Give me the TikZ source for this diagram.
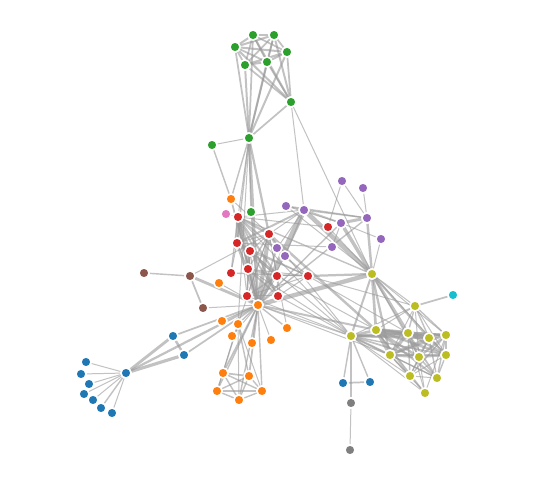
\documentclass[tikz,border=0pt]{standalone}
\usepackage{tikz}
\usetikzlibrary{backgrounds}
\definecolor{cblue}{HTML}{1F77B4}
\definecolor{corange}{HTML}{FF7F0E}
\definecolor{cgreen}{HTML}{2CA02C}
\definecolor{cred}{HTML}{D62728}
\definecolor{cpurple}{HTML}{9467BD}
\definecolor{cbrown}{HTML}{8C564B}
\definecolor{cpink}{HTML}{E377C2}
\definecolor{cgray}{HTML}{7F7F7F}
\definecolor{colive}{HTML}{BCBD22}
\definecolor{ccyan}{HTML}{17BECF}
\definecolor{linkgray}{HTML}{999999}
\begin{document}
\begin{tikzpicture}[x=1pt,y=-1pt,
  pers/.style={circle, fill=#1, draw=white, line width=1.5pt, minimum size=10pt, inner sep=0pt},
  link/.style={draw=linkgray, draw opacity=0.6}]
  \useasboundingbox (0,0) rectangle (547,492);
  % group 1: Myriel and his household
  \node[pers=cblue] (myriel) at (126,373) {};
  \node[pers=cblue] (napoleon) at (86,362) {};
  \node[pers=cblue] (countess) at (81,374) {};
  \node[pers=cblue] (geborand) at (89,384) {};
  \node[pers=cblue] (champtercier) at (84,394) {};
  \node[pers=cblue] (cravatte) at (93,400) {};
  \node[pers=cblue] (count) at (101,408) {};
  \node[pers=cblue] (oldman) at (112,413) {};
  \node[pers=cblue] (baptistine) at (173,336) {};
  \node[pers=cblue] (magloire) at (184,355) {};
  % group 2: Valjean
  \node[pers=corange] (valjean) at (258,305) {};
  \node[pers=corange] (labarre) at (219,283) {};
  \node[pers=corange] (mmeder) at (222,321) {};
  \node[pers=corange] (isabeau) at (232,336) {};
  \node[pers=corange] (gervais) at (252,343) {};
  \node[pers=corange] (scaufflaire) at (271,340) {};
  \node[pers=corange] (bamatabois) at (238,324) {};
  \node[pers=corange] (woman1) at (287,328) {};
  \node[pers=corange] (simplice) at (231,199) {};
  \node[pers=corange] (judge) at (223,373) {};
  \node[pers=corange] (champmathieu) at (249,376) {};
  \node[pers=corange] (brevet) at (217,391) {};
  \node[pers=corange] (chenildieu) at (239,400) {};
  \node[pers=corange] (cochepaille) at (262,391) {};
  % group 3: Fantine and friends
  \node[pers=cgreen] (listolier) at (253,35) {};
  \node[pers=cgreen] (fameuil) at (274,35) {};
  \node[pers=cgreen] (blacheville) at (235,47) {};
  \node[pers=cgreen] (favourite) at (287,52) {};
  \node[pers=cgreen] (dahlia) at (245,65) {};
  \node[pers=cgreen] (zephine) at (267,62) {};
  \node[pers=cgreen] (tholomyes) at (291,102) {};
  \node[pers=cgreen] (fantine) at (249,138) {};
  \node[pers=cgreen] (perpetue) at (212,145) {};
  \node[pers=cgreen] (marguerite) at (251,212) {};
  % group 4: Thenardiers, Javert, gang
  \node[pers=cred] (thenardier) at (238,217) {};
  \node[pers=cred] (javert) at (269,234) {};
  \node[pers=cred] (pontmercy) at (328,227) {};
  \node[pers=cred] (mmethen) at (237,243) {};
  \node[pers=cred] (eponine) at (308,276) {};
  \node[pers=cred] (anzelma) at (231,273) {};
  \node[pers=cred] (gueulemer) at (250,251) {};
  \node[pers=cred] (babet) at (248,269) {};
  \node[pers=cred] (claquesous) at (277,276) {};
  \node[pers=cred] (montparnasse) at (247,296) {};
  \node[pers=cred] (brujon) at (278,296) {};
  % group 5: Cosette and Gillenormands
  \node[pers=cpurple] (cosette) at (304,210) {};
  \node[pers=cpurple] (ltgillen) at (286,206) {};
  \node[pers=cpurple] (mmepont) at (342,181) {};
  \node[pers=cpurple] (vaubois) at (363,188) {};
  \node[pers=cpurple] (gillen) at (341,223) {};
  \node[pers=cpurple] (mllegillen) at (367,218) {};
  \node[pers=cpurple] (baronesst) at (381,239) {};
  \node[pers=cpurple] (woman2) at (277,248) {};
  \node[pers=cpurple] (toussaint) at (285,256) {};
  \node[pers=cpurple] (magnon) at (332,247) {};
  % group 8: the barricade
  \node[pers=colive] (marius) at (372,274) {};
  \node[pers=colive] (mabeuf) at (415,306) {};
  \node[pers=colive] (gavroche) at (351,336) {};
  \node[pers=colive] (enjolras) at (376,330) {};
  \node[pers=colive] (courfeyrac) at (408,333) {};
  \node[pers=colive] (combeferre) at (429,338) {};
  \node[pers=colive] (bahorel) at (446,335) {};
  \node[pers=colive] (bossuet) at (390,355) {};
  \node[pers=colive] (joly) at (419,357) {};
  \node[pers=colive] (feuilly) at (446,355) {};
  \node[pers=colive] (grantaire) at (410,376) {};
  \node[pers=colive] (prouvaire) at (437,378) {};
  \node[pers=colive] (hucheloup) at (425,393) {};
  % small groups
  \node[pers=cbrown] (fauchelevent) at (190,276) {};
  \node[pers=cbrown] (gribier) at (144,273) {};
  \node[pers=cbrown] (motherinn) at (203,308) {};
  \node[pers=cpink] (boulatruelle) at (226,214) {};
  \node[pers=cgray] (burgon) at (351,403) {};
  \node[pers=cgray] (jondrette) at (350,450) {};
  \node[pers=ccyan] (plutarch) at (453,295) {};
  \node[pers=cblue] (child1) at (343,383) {};
  \node[pers=cblue] (child2) at (370,382) {};
  % links, width = sqrt(value)
  \begin{scope}[on background layer]
    \foreach \a/\b/\w in {napoleon/myriel/1, baptistine/myriel/8, magloire/myriel/10,
      magloire/baptistine/6, countess/myriel/1, geborand/myriel/1, champtercier/myriel/1,
      cravatte/myriel/1, count/myriel/2, oldman/myriel/1,
      valjean/labarre/1, valjean/magloire/3, valjean/baptistine/3, valjean/myriel/5,
      marguerite/valjean/1, mmeder/valjean/1, isabeau/valjean/1, gervais/valjean/1,
      listolier/tholomyes/4, fameuil/tholomyes/4, fameuil/listolier/4, blacheville/tholomyes/4,
      blacheville/listolier/4, blacheville/fameuil/4, favourite/tholomyes/3, favourite/listolier/3,
      favourite/fameuil/3, favourite/blacheville/4, dahlia/tholomyes/3, dahlia/listolier/3,
      dahlia/fameuil/3, dahlia/blacheville/3, dahlia/favourite/5, zephine/tholomyes/3,
      zephine/listolier/3, zephine/fameuil/3, zephine/blacheville/3, zephine/favourite/4,
      zephine/dahlia/4, fantine/tholomyes/3, fantine/listolier/3, fantine/fameuil/3,
      fantine/blacheville/3, fantine/favourite/4, fantine/dahlia/4, fantine/zephine/4,
      fantine/marguerite/2, fantine/valjean/9,
      mmethen/fantine/2, mmethen/valjean/7, thenardier/mmethen/13, thenardier/fantine/1,
      thenardier/valjean/12, cosette/mmethen/4, cosette/valjean/31, cosette/tholomyes/1,
      cosette/thenardier/1, javert/valjean/17, javert/fantine/5, javert/thenardier/5,
      javert/mmethen/1, javert/cosette/1, fauchelevent/valjean/8, fauchelevent/javert/1,
      bamatabois/fantine/1, bamatabois/javert/1, bamatabois/valjean/2,
      perpetue/fantine/1, simplice/perpetue/2, simplice/valjean/3, simplice/fantine/2,
      simplice/javert/1, scaufflaire/valjean/1, woman1/valjean/2, woman1/javert/1,
      judge/valjean/3, judge/bamatabois/2, champmathieu/valjean/3, champmathieu/judge/3,
      champmathieu/bamatabois/2, brevet/judge/2, brevet/champmathieu/2, brevet/valjean/2,
      brevet/bamatabois/1, chenildieu/judge/2, chenildieu/champmathieu/2, chenildieu/brevet/2,
      chenildieu/valjean/2, chenildieu/bamatabois/1, cochepaille/judge/2,
      cochepaille/champmathieu/2, cochepaille/brevet/2, cochepaille/chenildieu/2,
      cochepaille/valjean/2, cochepaille/bamatabois/1,
      pontmercy/thenardier/1, boulatruelle/thenardier/1, eponine/mmethen/2, eponine/thenardier/3,
      anzelma/eponine/2, anzelma/thenardier/2, anzelma/mmethen/1,
      woman2/valjean/3, woman2/cosette/1, woman2/javert/1, motherinn/fauchelevent/3,
      motherinn/valjean/1, gribier/fauchelevent/2,
      burgon/jondrette/1, gavroche/burgon/2, gavroche/thenardier/1, gavroche/javert/1,
      gavroche/valjean/1, gillen/cosette/3, gillen/valjean/2, magnon/gillen/1, magnon/mmethen/1,
      mllegillen/gillen/9, mllegillen/cosette/2, mllegillen/valjean/2, mmepont/mllegillen/1,
      mmepont/pontmercy/1, vaubois/mllegillen/1, ltgillen/mllegillen/2, ltgillen/gillen/1,
      ltgillen/cosette/1,
      marius/mllegillen/6, marius/gillen/12, marius/pontmercy/1, marius/ltgillen/1,
      marius/cosette/21, marius/valjean/19, marius/tholomyes/1, marius/thenardier/2,
      marius/eponine/5, marius/gavroche/4, baronesst/gillen/1, baronesst/marius/1,
      mabeuf/marius/1, mabeuf/eponine/1, mabeuf/gavroche/1,
      enjolras/marius/7, enjolras/gavroche/7, enjolras/javert/6, enjolras/mabeuf/1,
      enjolras/valjean/4, combeferre/enjolras/15, combeferre/marius/5, combeferre/gavroche/6,
      combeferre/mabeuf/2, prouvaire/gavroche/1, prouvaire/enjolras/4, prouvaire/combeferre/2,
      feuilly/gavroche/2, feuilly/enjolras/6, feuilly/prouvaire/2, feuilly/combeferre/5,
      feuilly/mabeuf/1, feuilly/marius/1,
      courfeyrac/marius/9, courfeyrac/enjolras/17, courfeyrac/combeferre/13,
      courfeyrac/gavroche/7, courfeyrac/mabeuf/2, courfeyrac/eponine/1, courfeyrac/feuilly/6,
      courfeyrac/prouvaire/3,
      bahorel/combeferre/5, bahorel/gavroche/5, bahorel/courfeyrac/6, bahorel/mabeuf/2,
      bahorel/enjolras/4, bahorel/feuilly/3, bahorel/prouvaire/2, bahorel/marius/1,
      bossuet/marius/5, bossuet/courfeyrac/12, bossuet/gavroche/5, bossuet/bahorel/4,
      bossuet/enjolras/10, bossuet/feuilly/6, bossuet/prouvaire/2, bossuet/combeferre/9,
      bossuet/mabeuf/1, bossuet/valjean/1,
      joly/bahorel/5, joly/bossuet/7, joly/gavroche/3, joly/courfeyrac/5, joly/enjolras/5,
      joly/feuilly/5, joly/prouvaire/2, joly/combeferre/5, joly/mabeuf/1, joly/marius/2,
      grantaire/bossuet/3, grantaire/enjolras/3, grantaire/combeferre/1, grantaire/courfeyrac/2,
      grantaire/joly/2, grantaire/gavroche/1, grantaire/bahorel/2, grantaire/feuilly/1,
      grantaire/prouvaire/1, plutarch/mabeuf/3,
      gueulemer/thenardier/5, gueulemer/valjean/1, gueulemer/mmethen/1, gueulemer/javert/1,
      gueulemer/gavroche/1, gueulemer/eponine/1,
      babet/thenardier/6, babet/gueulemer/6, babet/valjean/1, babet/mmethen/1, babet/javert/2,
      babet/gavroche/1, babet/eponine/1,
      claquesous/thenardier/4, claquesous/babet/4, claquesous/gueulemer/4, claquesous/valjean/1,
      claquesous/mmethen/1, claquesous/javert/1, claquesous/eponine/1, claquesous/enjolras/1,
      montparnasse/javert/1, montparnasse/babet/2, montparnasse/gueulemer/2,
      montparnasse/claquesous/2, montparnasse/valjean/1, montparnasse/gavroche/1,
      montparnasse/eponine/1, montparnasse/thenardier/1,
      toussaint/cosette/2, toussaint/javert/1, toussaint/valjean/1,
      child1/gavroche/2, child2/gavroche/2, child2/child1/3,
      brujon/babet/3, brujon/gueulemer/3, brujon/thenardier/3, brujon/gavroche/1,
      brujon/eponine/1, brujon/claquesous/1, brujon/montparnasse/1,
      hucheloup/bossuet/1, hucheloup/joly/1, hucheloup/grantaire/1, hucheloup/bahorel/1,
      hucheloup/courfeyrac/1, hucheloup/gavroche/1, hucheloup/enjolras/1}
    {
      \pgfmathsetmacro\lw{sqrt(\w)}
      \draw[link, line width=\lw pt] (\a) -- (\b);
    }
  \end{scope}
\end{tikzpicture}
\end{document}
